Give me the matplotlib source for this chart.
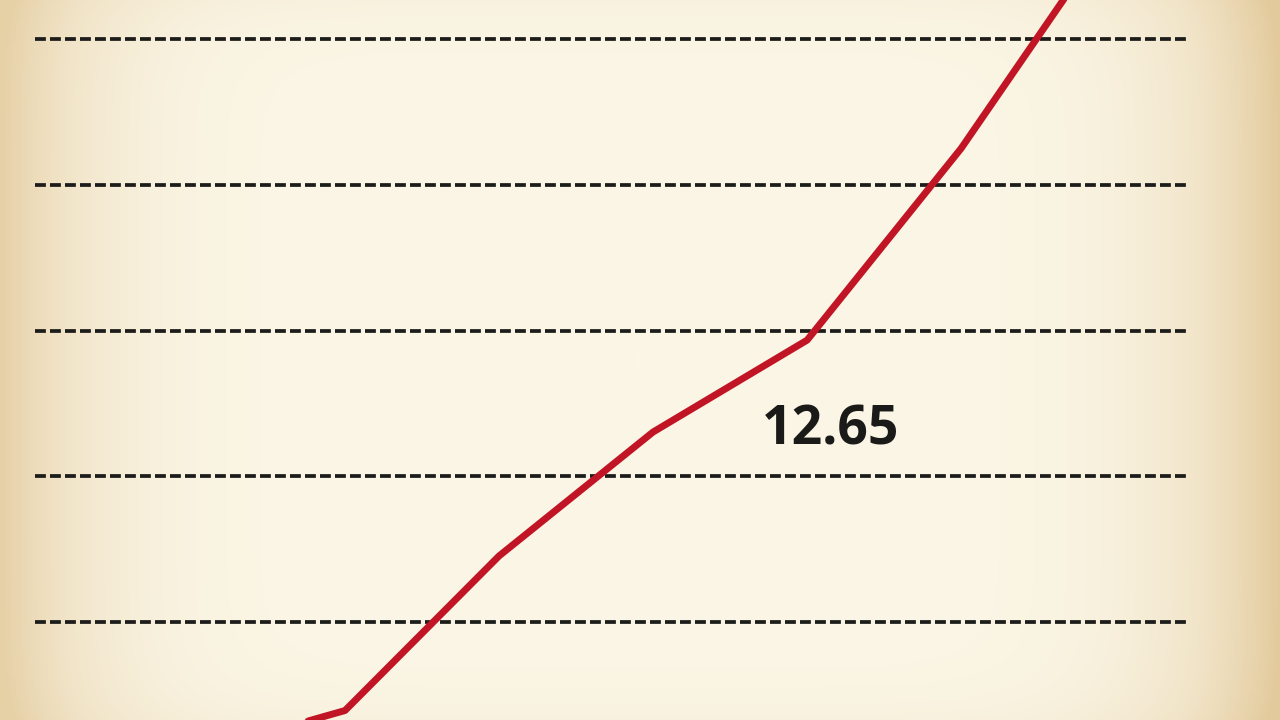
import numpy as np
import matplotlib.pyplot as plt

# series (x = step, y = value in grid units)
steps = [0, 1, 2, 3, 4, 5, 6]
values = [0.19, 0.79, 2.91, 4.61, 5.87, 8.50, 11.57]
grid_levels = [2, 4, 6, 8, 10]
label_text = "12.65"
label_pos = (4.15, 4.63)

fig = plt.figure(figsize=(12.8, 7.2), dpi=100)

# parchment background
bg = fig.add_axes([0, 0, 1, 1])
bg.set_axis_off()
xx, yy = np.meshgrid(np.linspace(-1, 1, 640), np.linspace(-1, 1, 360))
edge = np.clip(np.abs(xx) ** 7 * 1.0 + np.abs(yy) ** 10 * 0.12, 0, 1)
edge = edge + np.clip(xx, 0, 1) ** 5 * 0.15
center = np.array([251, 246, 230]) / 255
rim = np.array([230, 208, 166]) / 255
img = center[None, None, :] * (1 - edge[..., None]) + rim[None, None, :] * edge[..., None]
bg.imshow(np.clip(img, 0, 1), extent=[0, 1, 0, 1], aspect="auto", zorder=0)
bg.set_xlim(0, 1)
bg.set_ylim(0, 1)

ax = fig.add_axes([0, 0, 1, 1])
ax.patch.set_alpha(0)
ax.set_xlim(-1.24, 7.07)
ax.set_ylim(0.66, 10.535)
ax.set_axis_off()

for g in grid_levels:
    ax.plot([-1.013, 6.47], [g, g], color="#1c1c1a", linewidth=2.7,
            linestyle=(0, (2.9, 1.1)), dash_capstyle="butt", zorder=1)

ax.plot(steps, values, color="#c11526", linewidth=5.0,
        solid_joinstyle="round", solid_capstyle="round", zorder=2)

ax.text(label_pos[0], label_pos[1], label_text, fontsize=38.5,
        fontweight="bold", family=["Open Sans", "DejaVu Sans"],
        color="#1a1a18", ha="center", va="center", zorder=3)

fig.savefig("out.png", dpi=100)
